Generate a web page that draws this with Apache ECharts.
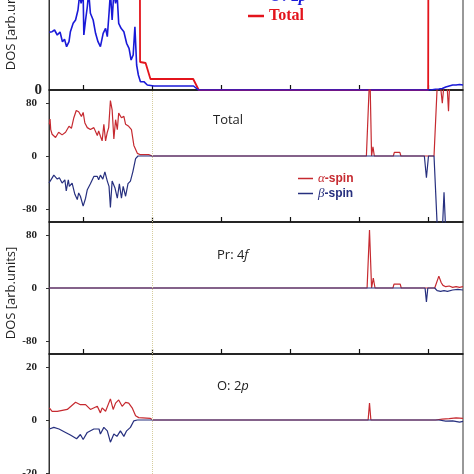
<!DOCTYPE html>
<html>
<head>
<meta charset="utf-8">
<script src="https://cdn.jsdelivr.net/npm/echarts@6/dist/echarts.min.js"></script>
<style>
  html, body { margin: 0; padding: 0; background: #fff; }
  #chart { width: 474px; height: 474px; }
</style>
</head>
<body>
<div id="chart"></div>
<script>
// energy axis (eV, Fermi level at 0)
const xTicks = [-2, 0, 2, 4, 6, 8]

// panel 1: O 2p and total DOS
const o2pTop = [[-2.99, 57.7], [-2.91, 58.3], [-2.84, 60], [-2.76, 55], [-2.68, 58], [-2.61, 48.3], [-2.55, 50.7],
  [-2.49, 43.3], [-2.42, 48.3], [-2.38, 58.3], [-2.30, 66.7], [-2.23, 70], [-2.16, 80], [-2.11, 96], [-2.07, 86.7],
  [-2.01, 96], [-1.99, 55], [-1.94, 70], [-1.89, 83], [-1.85, 98], [-1.80, 76.7], [-1.72, 70], [-1.65, 56.7],
  [-1.58, 48.3], [-1.51, 43.3], [-1.43, 56.7], [-1.36, 61.7], [-1.31, 53.3], [-1.26, 76.7], [-1.22, 98], [-1.17, 70],
  [-1.12, 98], [-1.07, 86.7], [-1.03, 98], [-0.98, 66.7], [-0.91, 61.7], [-0.83, 58.3], [-0.75, 46.7], [-0.68, 41.7],
  [-0.62, 30], [-0.56, 35], [-0.51, 63.3], [-0.46, 25], [-0.41, 15], [-0.35, 8.3], [-0.25, 8.3], [-0.15, 5],
  [0.04, 4], [1.19, 4], [1.33, 0], [8.06, 0], [8.2, 0.8], [8.3, 1], [8.4, 1.5], [8.5, 3], [8.55, 2.5], [8.6, 4],
  [8.65, 3], [8.7, 5], [8.75, 4], [8.8, 5], [8.85, 3.5], [8.9, 5.5], [8.95, 4], [9, 5]]
const totalTop = [[-3, 200], [-0.37, 200], [-0.36, 28], [-0.2, 27], [-0.06, 11], [1.18, 11], [1.34, 0],
  [7.99, 0], [8.0, 200], [9, 200]]

// panel 2: total, spin resolved
const totalUp = [[-2.99, 48], [-2.97, 56], [-2.95, 40], [-2.91, 33], [-2.81, 28], [-2.72, 36], [-2.62, 32],
  [-2.52, 36], [-2.42, 45], [-2.35, 42], [-2.28, 58], [-2.21, 69], [-2.14, 67], [-2.06, 60], [-2.01, 66],
  [-1.96, 50], [-1.89, 43], [-1.80, 40], [-1.70, 43], [-1.60, 31], [-1.56, 38], [-1.51, 30], [-1.46, 23],
  [-1.41, 48], [-1.36, 23], [-1.31, 36], [-1.27, 43], [-1.22, 84], [-1.17, 70], [-1.12, 26], [-1.07, 55],
  [-1.02, 40], [-0.98, 65], [-0.90, 58], [-0.83, 60], [-0.78, 48], [-0.69, 45], [-0.61, 40], [-0.54, 16],
  [-0.44, 4], [-0.35, 2], [-0.11, 2], [-0.01, 0], [6.20, 0], [6.30, 130], [6.35, 0], [6.36, 0], [6.39, 14],
  [6.43, 0], [6.98, 0], [7.01, 5.5], [7.17, 5.5], [7.2, 0], [8.16, 0], [8.26, 115], [8.33, 115], [8.40, 80],
  [8.46, 115], [8.53, 115], [8.58, 68], [8.62, 120], [9, 120]]
const totalDown = [[-3.0, -41], [-2.93, -35], [-2.86, -29], [-2.76, -35], [-2.70, -33], [-2.62, -41], [-2.54, -36],
  [-2.50, -53], [-2.44, -36], [-2.41, -46], [-2.33, -41], [-2.25, -58], [-2.18, -66], [-2.14, -56], [-2.09, -61],
  [-2.01, -76], [-1.94, -64], [-1.89, -51], [-1.80, -42], [-1.70, -31], [-1.60, -31], [-1.56, -36], [-1.51, -29],
  [-1.44, -35], [-1.38, -24], [-1.31, -38], [-1.26, -46], [-1.22, -78], [-1.17, -38], [-1.09, -48], [-1.02, -64],
  [-0.96, -42], [-0.90, -64], [-0.85, -46], [-0.78, -61], [-0.71, -42], [-0.64, -38], [-0.57, -24], [-0.49, -4],
  [-0.42, 0], [7.88, 0], [7.94, -33], [8.0, 0], [8.16, 0], [8.26, -115], [8.40, -115], [8.45, -55], [8.50, -115],
  [9, -115]]

// panel 3: Pr 4f
const prUp = [[-3, 0], [6.22, 0], [6.29, 88], [6.35, 0], [6.37, 0], [6.40, 15], [6.45, 0], [6.97, 0], [7.0, 6],
  [7.18, 6], [7.21, 0], [8.18, 0], [8.3, 18], [8.37, 8], [8.42, 4], [8.45, 6], [8.5, 2], [8.6, 3], [8.7, 1],
  [8.8, 2], [8.9, 1], [9, 2]]
const prDown = [[-3, 0], [7.90, 0], [7.94, -21], [7.98, 0], [8.18, 0], [8.25, -4], [8.35, -5], [8.45, -4],
  [8.55, -5], [8.7, -3], [8.85, -2], [9, -3]]

// panel 4: O 2p
const oUp = [[-2.99, 4.6], [-2.91, 3.3], [-2.76, 3.3], [-2.47, 4.0], [-2.23, 6.7], [-2.09, 5.8], [-1.94, 5.8],
  [-1.80, 4.0], [-1.60, 5.2], [-1.51, 2.7], [-1.46, 4.6], [-1.36, 3.3], [-1.22, 8.0], [-1.14, 4.0], [-1.07, 6.4],
  [-0.98, 7.6], [-0.88, 5.2], [-0.78, 6.7], [-0.69, 6.4], [-0.59, 4.6], [-0.49, 1.6], [-0.40, 0.9], [-0.06, 0.6],
  [0.02, 0], [6.25, 0], [6.29, 6.4], [6.33, 0], [6.36, 0.5], [6.4, 0], [8.2, 0], [8.4, 0.3], [8.6, 0.5],
  [8.8, 0.8], [9, 0.6]]
const oDown = [[-2.99, -3.4], [-2.86, -2.8], [-2.71, -3.4], [-2.52, -4.7], [-2.38, -5.7], [-2.20, -7.1],
  [-2.09, -5.5], [-2.01, -7.4], [-1.89, -4.7], [-1.70, -3.4], [-1.55, -3.4], [-1.51, -5.3], [-1.41, -2.8],
  [-1.31, -4.1], [-1.22, -8.4], [-1.12, -5.3], [-1.03, -6.2], [-0.93, -4.1], [-0.83, -6.2], [-0.75, -4.1],
  [-0.64, -2.8], [-0.54, -0.3], [-0.44, 0], [8.3, 0], [8.5, -0.4], [8.7, -0.3], [8.9, -0.8], [9, -0.5]]

// panel 1 is cut at the top of the picture: only its lower part shows
const panelTops = [-2, 90, 222, 354]
const panelHeights = [92, 132, 132, 132]
const yRanges = [[0, 92], [-100, 100], [-100, 100], [-25, 25]]
const yLabels = [[0], [-80, 0, 80], [-80, 0, 80], [-20, 0, 20]]

const red = '#c62a30', navy = '#27307f'
const serif = 'Liberation Serif', sans = 'Open Sans'

let chart = echarts.init(document.getElementById('chart'), null, {renderer: 'canvas'})

let grids = panelTops.map((t, i) => ({
  left: 49, right: 11, top: t, height: panelHeights[i],
  containLabel: false, outerBoundsMode: 'none',
  show: true, borderColor: '#333', borderWidth: 1
}))

let xAxes = panelTops.map((t, i) => ({
  type: 'value', gridIndex: i, min: -3, max: 9,
  axisLine: {show: true, onZero: false, lineStyle: {color: '#111', width: 1.6}},
  axisTick: {show: true, inside: true, length: 5, customValues: xTicks, lineStyle: {color: '#111', width: 1.2}},
  axisLabel: {show: false},
  splitLine: {show: false}
}))

let yAxes = panelTops.map((t, i) => ({
  type: 'value', gridIndex: i, min: yRanges[i][0], max: yRanges[i][1],
  axisLine: {show: true, onZero: false, lineStyle: {color: '#333', width: 1}},
  axisTick: {show: i > 0, inside: false, length: 3, customValues: yLabels[i], lineStyle: {color: '#333'}},
  axisLabel: {
    customValues: yLabels[i], margin: i === 0 ? 7 : 12,
    fontFamily: serif, fontWeight: 'bold', fontSize: i === 0 ? 15 : 11, color: '#222'
  },
  splitLine: {show: false}
}))

const fermi = {
  silent: true, symbol: 'none', label: {show: false},
  lineStyle: {color: '#d6cd9c', type: 'dotted', width: 1},
  data: [{xAxis: 0}]
}

function line(name, idx, data, color, width, mark) {
  let s = {
    name: name, type: 'line', xAxisIndex: idx, yAxisIndex: idx,
    data: data, symbol: 'none', color: color,
    lineStyle: {color: color, width: width}
  }
  if (mark) s.markLine = fermi
  return s
}

const plain = {fontFamily: sans, fontSize: 13, fontWeight: 'normal', color: '#222'}
const ital = {fontFamily: sans, fontSize: 13, fontWeight: 'normal', fontStyle: 'italic', color: '#222'}

let option = {
  animation: false,
  backgroundColor: '#fff',
  grid: grids,
  xAxis: xAxes,
  yAxis: yAxes,
  title: [
    {text: 'Total', left: 213, top: 114, padding: 0, textStyle: plain},
    {text: '{n|Pr: 4}{i|f}', left: 217, top: 249, padding: 0,
      textStyle: {fontWeight: 'normal', rich: {n: plain, i: ital}}},
    {text: '{n|O: 2}{i|p}', left: 217, top: 380, padding: 0,
      textStyle: {fontWeight: 'normal', rich: {n: plain, i: ital}}}
  ],
  graphic: [
    {type: 'text', x: 11, y: 24, rotation: Math.PI / 2,
      style: {text: 'DOS [arb.units]', align: 'center', verticalAlign: 'middle',
        font: '13px "Open Sans"', fill: '#222'}},
    {type: 'text', x: 11, y: 293, rotation: Math.PI / 2,
      style: {text: 'DOS [arb.units]', align: 'center', verticalAlign: 'middle',
        font: '13px "Open Sans"', fill: '#222'}}
  ],
  legend: [
    {
      data: ['O: 2p', 'Total'], orient: 'vertical', left: 248, top: -11, padding: 0,
      itemGap: 3, itemWidth: 16, itemHeight: 2.5, icon: 'rect', selectedMode: false,
      formatter: n => n === 'Total' ? '{r|Total}' : '{b|O: 2}{bi|p}',
      textStyle: {rich: {
        r: {fontFamily: serif, fontWeight: 'bold', fontSize: 16, color: '#e3141c'},
        b: {fontFamily: serif, fontWeight: 'bold', fontSize: 16, color: '#1a1ad8'},
        bi: {fontFamily: serif, fontWeight: 'bold', fontStyle: 'italic', fontSize: 16, color: '#1a1ad8'}
      }}
    },
    {
      data: ['α-spin', 'β-spin'], orient: 'vertical', left: 298, top: 172, padding: 0,
      itemGap: 2, itemWidth: 15, itemHeight: 1.5, icon: 'rect', selectedMode: false,
      formatter: n => n === 'α-spin' ? '{ga|α}{ra|-spin}' : '{gb|β}{rb|-spin}',
      textStyle: {rich: {
        ga: {fontFamily: serif, fontStyle: 'italic', fontSize: 13, color: red},
        ra: {fontFamily: 'Liberation Sans', fontWeight: 'bold', fontSize: 12, color: red},
        gb: {fontFamily: serif, fontStyle: 'italic', fontSize: 13, color: navy},
        rb: {fontFamily: 'Liberation Sans', fontWeight: 'bold', fontSize: 12, color: navy}
      }}
    }
  ],
  series: [
    line('Total', 0, totalTop, '#e3141c', 1.8, false),
    line('O: 2p', 0, o2pTop, '#1a1ad8', 1.6, false),
    line('α-spin', 1, totalUp, red, 1.2, true),
    line('β-spin', 1, totalDown, navy, 1.2, false),
    line('Pr 4f up', 2, prUp, red, 1.2, true),
    line('Pr 4f down', 2, prDown, navy, 1.2, false),
    line('O 2p up', 3, oUp, red, 1.2, true),
    line('O 2p down', 3, oDown, navy, 1.2, false)
  ]
}

chart.setOption(option)
</script>
</body>
</html>
